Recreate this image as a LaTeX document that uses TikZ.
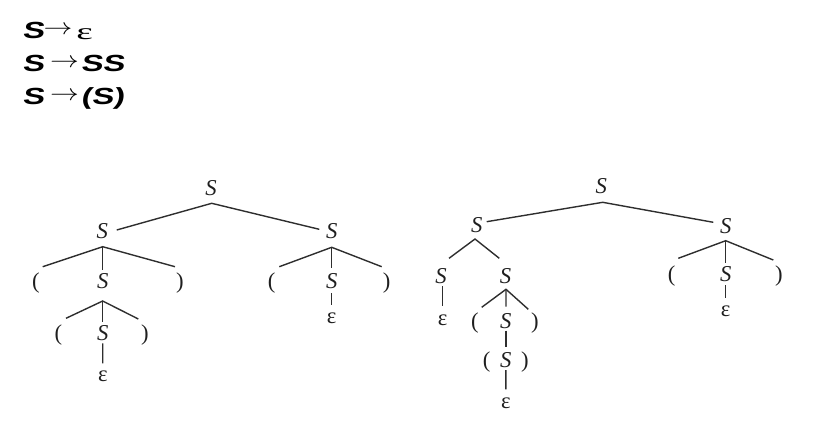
\documentclass[tikz,border=0pt]{standalone}
\usepackage{fontspec}
\setmainfont{Liberation Serif}
\newfontfamily\hsans[FakeStretch=1.4,FakeSlant=0.15]{Liberation Sans Bold}
\newfontfamily\hserif{Liberation Serif}
\begin{document}
\begin{tikzpicture}[x=0.75pt,y=-0.75pt,
  sym/.style={inner sep=0pt, anchor=base, text=black!88, font=\fontsize{17}{20}\selectfont},
  snt/.style={sym, font=\fontsize{17}{20}\selectfont\itshape},
  eps/.style={sym},
  hdr/.style={inner sep=0pt, anchor=base west, font=\fontsize{17.5}{20}\selectfont\hsans},
  harr/.style={inner sep=0pt, anchor=center, font=\fontsize{17.3}{20}\selectfont},
  heps/.style={inner sep=0pt, anchor=center, font=\fontsize{17.3}{20}\selectfont\hserif},
  branch/.style={draw=black!82, line width=1.05pt}
]
\useasboundingbox (0,0) rectangle (815,426);

% ---------- header ----------
\node[hdr]  (h1s) at (22,38.5)  {S};
\node[harr] (h1a) at (58,30)  {\scalebox{1.25}[1]{$\rightarrow$}};
\node[heps] (h1e) at (84.5,33.8)  {\scalebox{1.7}[1]{ε}};
\node[hdr]  (h2s) at (22,71.5)  {S};
\node[harr] (h2a) at (64.5,63)  {\scalebox{1.25}[1]{$\rightarrow$}};
\node[hdr]  (h2r) at (80.5,71.5) {SS};
\node[hdr]  (h3s) at (22,104.8) {S};
\node[harr] (h3a) at (64.5,96.3) {\scalebox{1.25}[1]{$\rightarrow$}};
\node[hdr]  (h3r) at (80.5,104.8) {(S)};

% ---------- tree 1 ----------
\node[snt] (r1) at (211,195) {S};
\node[snt] (a)  at (102.2,238.3) {S};
\node[snt] (b)  at (331.7,238.3) {S};
\node[sym] (p1) at (35.8,288.3) {(};
\node[snt] (s1) at (102.7,288.3) {S};
\node[sym] (q1) at (180,288.3) {)};
\node[sym] (p2) at (58.3,340) {(};
\node[snt] (s2) at (102.7,340) {S};
\node[sym] (q2) at (145,340) {)};
\node[eps] (e1) at (103,381.7) {ε};
\node[sym] (p3) at (271.7,288.3) {(};
\node[snt] (s3) at (331.7,288.3) {S};
\node[sym] (q3) at (386.7,288.3) {)};
\node[eps] (e2) at (331.7,323) {ε};

\draw[branch] ([shift={(14.5,-8.3)}]a.base) -- ([shift={(0.7,8.3)}]r1.base) -- ([shift={(-12.4,-9)}]b.base);
\draw[branch] ([shift={(6.9,-21.6)}]p1.base) -- ([shift={(0.5,8.4)}]a.base) -- ([shift={(-5,-21.6)}]q1.base);
\draw[branch] ([shift={(0.5,8.4)}]a.base) -- ([shift={(0,-18.3)}]s1.base);
\draw[branch] ([shift={(7.7,-21.7)}]p2.base) -- ([shift={(0,12.7)}]s1.base) -- ([shift={(-6.7,-21)}]q2.base);
\draw[branch] ([shift={(0,12.7)}]s1.base) -- ([shift={(0,-18.3)}]s2.base);
\draw[branch] ([shift={(0,3.3)}]s2.base) -- ([shift={(-0.3,-18.4)}]e1.base);
\draw[branch] ([shift={(7.6,-21.6)}]p3.base) -- ([shift={(0,9)}]b.base) -- ([shift={(-5,-21.6)}]q3.base);
\draw[branch] ([shift={(0,9)}]b.base) -- ([shift={(0,-20)}]s3.base);
\draw[branch] ([shift={(0,5)}]s3.base) -- ([shift={(0,-18)}]e2.base);

% ---------- tree 2 ----------
\node[snt] (r2) at (601.3,193.3) {S};
\node[snt] (c)  at (476.7,232.5) {S};
\node[snt] (d)  at (725.7,233.3) {S};
\node[snt] (s4) at (441,283) {S};
\node[snt] (s5) at (505.5,283) {S};
\node[eps] (e3) at (442.7,325) {ε};
\node[sym] (p4) at (475,328.3) {(};
\node[snt] (s6) at (505.8,328.3) {S};
\node[sym] (q4) at (535,328.3) {)};
\node[sym] (p5) at (486.7,367.3) {(};
\node[snt] (s7) at (505.8,367.3) {S};
\node[sym] (q5) at (525,367.3) {)};
\node[eps] (e4) at (506,408.3) {ε};
\node[sym] (p6) at (671.7,281) {(};
\node[snt] (s8) at (725.7,281) {S};
\node[sym] (q6) at (779,281) {)};
\node[eps] (e5) at (725.7,316.7) {ε};

\draw[branch] ([shift={(10,-10.8)}]c.base) -- ([shift={(1.4,9)}]r2.base) -- ([shift={(-12.4,-11)}]d.base);
\draw[branch] ([shift={(8,-24.7)}]s4.base) -- ([shift={(-1.7,6.5)}]c.base) -- ([shift={(-6.2,-24.7)}]s5.base);
\draw[branch] ([shift={(1.7,3)}]s4.base) -- ([shift={(0,-19)}]e3.base);
\draw[branch] ([shift={(6.7,-21)}]p4.base) -- ([shift={(0.5,6.3)}]s5.base) -- ([shift={(-6.7,-19)}]q4.base);
\draw[branch] ([shift={(0.5,6.3)}]s5.base) -- ([shift={(0.2,-21.6)}]s6.base);
\draw[branch] ([shift={(0,2.4)}]s6.base) -- ([shift={(0,-20)}]s7.base);
\draw[branch] ([shift={(0,2.7)}]s7.base) -- ([shift={(-0.2,-19)}]e4.base);
\draw[branch] ([shift={(6.6,-22.7)}]p6.base) -- ([shift={(0,7.4)}]d.base) -- ([shift={(-5.7,-21)}]q6.base);
\draw[branch] ([shift={(0,7.4)}]d.base) -- ([shift={(0,-17.7)}]s8.base);
\draw[branch] ([shift={(0,4)}]s8.base) -- ([shift={(0,-18.4)}]e5.base);
\end{tikzpicture}
\end{document}
